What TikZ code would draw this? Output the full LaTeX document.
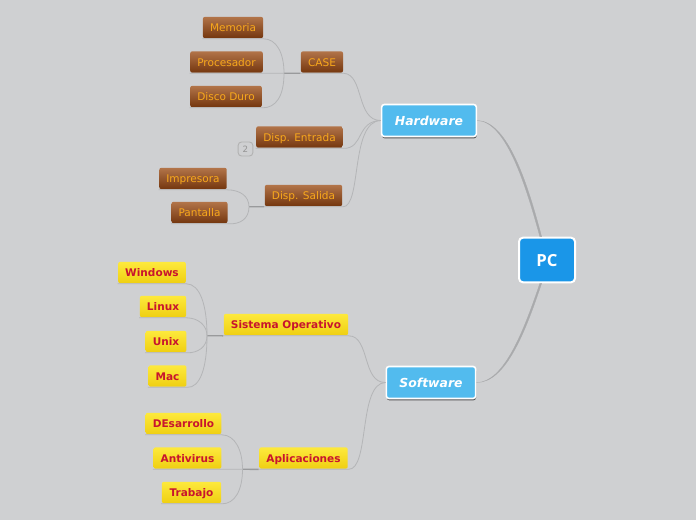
\documentclass[tikz,border=0pt]{standalone}
\usepackage{fontspec}
\setmainfont{DejaVu Sans}
\newfontfamily\pcfont{Open Sans}
\usetikzlibrary{shadows}
\definecolor{paper}{HTML}{CFD0D2}
\definecolor{wire}{HTML}{B4B5B7}
\definecolor{trunkgrey}{HTML}{A9AAAC}
\definecolor{rootblue}{HTML}{1A96E8}
\definecolor{skyblue}{HTML}{52BBEE}
\definecolor{crimson}{HTML}{C8142E}
\definecolor{amber}{HTML}{F8A81C}
\definecolor{browntop}{HTML}{B27449}
\definecolor{brownmid}{HTML}{945228}
\definecolor{brownlow}{HTML}{74360E}
\definecolor{yellowtop}{HTML}{FDE93C}
\definecolor{yellowlow}{HTML}{EFCF12}
\tikzstyle{root} = [rectangle, rounded corners=3pt, minimum width=42pt, minimum height=33.5pt, text height=11.2pt, text depth=2pt, draw=white, line width=1.5pt, fill=rootblue, text=white, font=\pcfont\fontsize{12.5}{15}\selectfont\bfseries]
\tikzstyle{branch} = [rectangle, rounded corners=2pt, minimum height=24pt, text height=9pt, text depth=1.5pt, draw=white, line width=1.2pt, fill=skyblue, text=white, font=\fontsize{9.3}{11}\selectfont\bfseries\itshape, drop shadow={shadow xshift=0.3pt, shadow yshift=-1.4pt, fill=black, opacity=0.6}]
\tikzstyle{hard} = [rectangle, rounded corners=1.5pt, minimum height=16pt, text height=8.1pt, text depth=1.5pt, inner xsep=5.3pt, inner ysep=0pt, outer sep=0.5pt, top color=browntop, middle color=brownmid, bottom color=brownlow, text=amber, font=\fontsize{7.9}{10}\selectfont]
\tikzstyle{soft} = [rectangle, rounded corners=1.5pt, minimum height=16pt, text height=8.1pt, text depth=1.5pt, inner xsep=5.3pt, inner ysep=0pt, outer sep=0.5pt, top color=yellowtop, bottom color=yellowlow, text=crimson, font=\fontsize{7.9}{10}\selectfont\bfseries]
\tikzstyle{badge} = [rectangle, rounded corners=2.5pt, minimum width=11pt, minimum height=10.5pt, inner sep=0pt, draw=black!30, line width=0.7pt, text=black!42, font=\fontsize{6.5}{8}\selectfont]
\tikzstyle{link} = [draw=wire, line width=0.6pt]
\tikzstyle{stem} = [draw=wire!85!black, line width=1pt]
\tikzstyle{trunk} = [fill=trunkgrey, draw=trunkgrey, line width=0.2pt]
\begin{document}
\begin{tikzpicture}[x=0.75pt, y=-0.75pt]
	\fill [paper] (0,0) rectangle (696,520);
	\useasboundingbox (0,0) rectangle (696,520);
	% centre and the two main topics
	\node (pc) [root] at (547,260) {PC};
	\node (hardware) [branch, minimum width=71pt] at (429,120.5) {Hardware};
	\node (software) [branch, minimum width=67pt] at (431,382.5) {Software};
	% hardware side
	\node (case) [hard] at (322,62) {CASE};
	\node (memoria) [hard] at (233,27.5) {Memoria};
	\node (procesador) [hard] at (226.5,62) {Procesador};
	\node (disco) [hard] at (226,96.5) {Disco Duro};
	\node (entrada) [hard] at (299.5,137) {Disp. Entrada};
	\node (badge2) [badge] at (245.5,149) {2};
	\node (salida) [hard] at (303.5,195.5) {Disp. Salida};
	\node (impresora) [hard] at (193,178.5) {Impresora};
	\node (pantalla) [hard] at (199.5,212.5) {Pantalla};
	% software side
	\node (so) [soft] at (286,324.5) {Sistema Operativo};
	\node (windows) [soft] at (152,272.5) {Windows};
	\node (linux) [soft] at (163,306.5) {Linux};
	\node (unix) [soft] at (166,341.5) {Unix};
	\node (mac) [soft] at (167.5,376) {Mac};
	\node (aplicaciones) [soft] at (303.5,458) {Aplicaciones};
	\node (desarrollo) [soft] at (183.5,423.5) {DEsarrollo};
	\node (antivirus) [soft] at (187.5,458) {Antivirus};
	\node (trabajo) [soft, minimum width=44.5pt] at (191.5,492.5) {Trabajo};
	% junctions
	\coordinate (casejoin) at (284,73.33);
	\coordinate (salidajoin) at (249,206.83);
	\coordinate (sojoin) at (207,335.83);
	\coordinate (aplijoin) at (242.5,469.33);
	% main connectors
	\fill [trunk] (hardware.east) .. controls (508,121) and (528,185) .. (pc.103) -- (pc.107) .. controls (526,186) and (506,121) .. (hardware.east);
	\fill [trunk] (software.east) .. controls (506,383) and (526,330) .. (pc.-103) -- (pc.-107) .. controls (524,330) and (504,383) .. (software.east);
	% branch connectors
	\draw [link] (case.south west) -- (case.south east) .. controls (364,74) and (356,121) .. (hardware.west);
	\draw [link] (entrada.south west) -- (entrada.south east) .. controls (364,149) and (356,121) .. (hardware.west);
	\draw [link] (salida.south west) -- (salida.south east) .. controls (362,207) and (350,121) .. (hardware.west);
	\draw [link] (so.south west) -- (so.south east) .. controls (370,336) and (362,383) .. (software.west);
	\draw [link] (aplicaciones.south west) -- (aplicaciones.south east) .. controls (370,470) and (358,383) .. (software.west);
	% leaf connectors
	\draw [stem] (casejoin) -- (case.south west);
	\draw [link] (memoria.south west) -- (memoria.south east) .. controls (276,39) and (284,52) .. (casejoin);
	\draw [link] (procesador.south west) -- (procesador.south east) -- (casejoin);
	\draw [link] (disco.south west) -- (disco.south east) .. controls (276,108) and (284,96) .. (casejoin);
	\draw [stem] (salidajoin) -- (salida.south west);
	\draw [link] (impresora.south west) -- (impresora.south east) .. controls (240,190) and (249,196) .. (salidajoin);
	\draw [link] (pantalla.south west) -- (pantalla.south east) .. controls (240,224.5) and (249,219) .. (salidajoin);
	\draw [stem] (sojoin) -- (so.south west);
	\draw [link] (windows.south west) -- (windows.south east) .. controls (200,284) and (207,305) .. (sojoin);
	\draw [link] (linux.south west) -- (linux.south east) .. controls (198,318) and (207,325) .. (sojoin);
	\draw [link] (unix.south west) -- (unix.south east) .. controls (198,353) and (207,347) .. (sojoin);
	\draw [link] (mac.south west) -- (mac.south east) .. controls (200,388) and (207,368) .. (sojoin);
	\draw [stem] (aplijoin) -- (aplicaciones.south west);
	\draw [link] (desarrollo.south west) -- (desarrollo.south east) .. controls (235,435) and (242.5,450) .. (aplijoin);
	\draw [link] (antivirus.south west) -- (antivirus.south east) -- (aplijoin);
	\draw [link] (trabajo.south west) -- (trabajo.south east) .. controls (235,504) and (242.5,490) .. (aplijoin);
\end{tikzpicture}
\end{document}
